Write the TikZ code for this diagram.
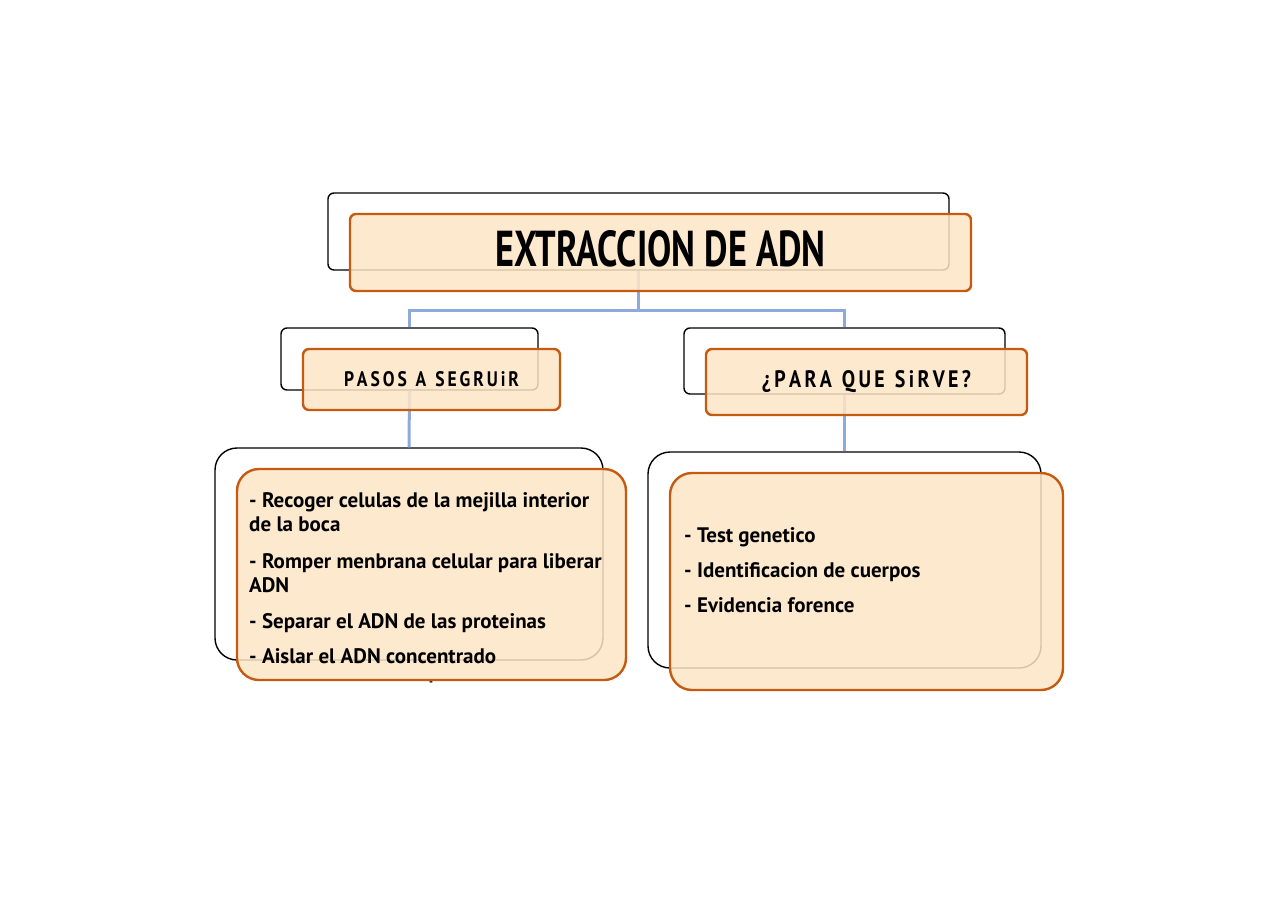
\documentclass[tikz,border=0pt]{standalone}
\usepackage{fontspec}
\setmainfont{PT Sans}
\usepackage{graphicx}
\definecolor{boxline}{HTML}{C55A11}
\definecolor{boxfill}{RGB}{253,229,197}
\definecolor{linkblue}{HTML}{8EA9DB}
\begin{document}
\begin{tikzpicture}[x=1pt,y=-1pt,
    backbox/.style={draw=black, line width=1.4pt, rounded corners=6pt, inner sep=0pt},
    frontbox/.style={draw=boxline, line width=2.4pt, fill=boxfill, fill opacity=0.85,
        text opacity=1, rounded corners=6pt, inner sep=0pt},
    link/.style={draw=linkblue, line width=3pt},
    itemtext/.style={anchor=base west, align=left, inner sep=0pt,
        font=\fontsize{21}{24}\selectfont\bfseries}]
    \useasboundingbox (0,0) rectangle (1280,905);

    % Back outlines
    \node[backbox, minimum width=621pt, minimum height=77pt] (titleback) at (638.5,231.5) {};
    \node[backbox, minimum width=257pt, minimum height=62pt] (stepsback) at (409.5,359) {};
    \node[backbox, minimum width=321pt, minimum height=66pt] (usesback) at (844.5,361) {};
    \node[backbox, rounded corners=22pt, minimum width=388pt, minimum height=212pt] (stepslistback) at (409,554) {};
    \node[backbox, rounded corners=22pt, minimum width=393pt, minimum height=216pt] (useslistback) at (844.5,560) {};

    % Links
    \coordinate (split) at (638.5,310);
    \draw[link] (titleback.south) -- (split);
    \draw[link] (split) -| (stepsback.north);
    \draw[link] (split) -| (usesback.north);
    \draw[link] (stepsback.south) -- (stepslistback.north);
    \draw[link] (usesback.south) -- (useslistback.north);

    % Front boxes
    \node[frontbox, minimum width=621pt, minimum height=77pt, text depth=8pt] (title) at (660.5,252.5)
        {\resizebox{330pt}{36pt}{\bfseries EXTRACCION DE ADN}};
    \node[frontbox, minimum width=257pt, minimum height=61pt] (steps) at (431.5,379.5)
        {\resizebox{175pt}{15pt}{\bfseries P\,A\,S\,O\,S\ \ A\ \ S\,E\,G\,R\,U\,i\,R}};
    \node[frontbox, minimum width=321pt, minimum height=66pt] (uses) at (866.5,382)
        {\resizebox{209pt}{17pt}{\bfseries ¿\,P\,A\,R\,A\ \ Q\,U\,E\ \ S\,i\,R\,V\,E\,?}};
    \node[frontbox, rounded corners=22pt, minimum width=389pt, minimum height=211pt] (stepslist) at (431.5,574.5) {};
    \node[frontbox, rounded corners=22pt, minimum width=393pt, minimum height=217pt] (useslist) at (866.5,581.5) {};

    % List texts (anchored at the last baseline)
    \node[itemtext] (stepstext) at (249,663)
        {- Recoger celulas de la mejilla interior\\ de la boca\\[13pt]
         - Romper menbrana celular para liberar\\ ADN\\[12pt]
         - Separar el ADN de las proteinas\\[11pt]
         - Aislar el ADN concentrado};
    \node[itemtext] (usestext) at (684,612)
        {- Test genetico\\[11pt]
         - Identificacion de cuerpos\\[11pt]
         - Evidencia forence};
    \node[inner sep=0pt, font=\fontsize{11}{11}\selectfont\bfseries] (stray) at (431,684) {-};

\end{tikzpicture}
\end{document}
